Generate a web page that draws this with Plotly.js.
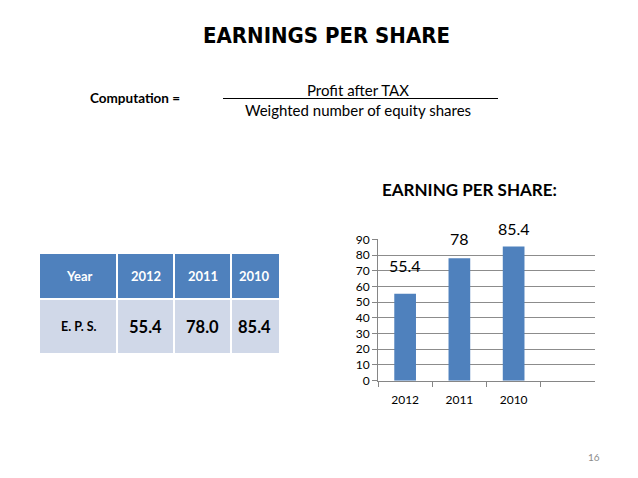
<!DOCTYPE html>
<html><head><meta charset="utf-8">
<script src="https://cdn.plot.ly/plotly-3.0.1.min.js"></script>
<style>html,body{margin:0;padding:0;background:#fff}</style>
</head><body><div id="chart" style="width:638px;height:478px"></div>
<script>
const years = ["2012", "2011", "2010"];
const eps = [55.4, 78.0, 85.4];
const barLabels = ["55.4", "78", "85.4"];
const tableHeader = ["Year", "2012", "2011", "2010"];
const tableRow = ["E. P. S.", "55.4", "78.0", "85.4"];
const yTicks = [0, 10, 20, 30, 40, 50, 60, 70, 80, 90];

const W = 638, H = 478;
const px = x => x / W, py = y => 1 - y / H;
const FONT = "Lato, 'Open Sans', sans-serif";

// table geometry (pixels)
const colEdges = [40, 117, 174, 231, 279];
const rowEdges = [[254, 298], [300, 353]];
const rowFill = ["#4F81BD", "#D0D8E8"];

const bar = {
  type: "bar", x: years, y: eps, width: 0.4,
  marker: {color: "#4F81BD", line: {width: 0}},
  hoverinfo: "skip", showlegend: false
};

function paperText(text, x, y, size, color, family) {
  return {text: text, x: px(x), y: py(y), xref: "paper", yref: "paper",
    xanchor: "center", yanchor: "middle", showarrow: false,
    font: {family: family || FONT, size: size, color: color || "#000"}};
}

const annotations = [
  paperText("<b>EARNINGS PER SHARE</b>", 327, 35, 22, "#000", "'DejaVu Sans Condensed', 'DejaVu Sans'"),
  paperText("<b>Computation =</b>", 135, 98, 13.5),
  paperText("Profit after TAX", 358, 90, 15),
  paperText("Weighted number of equity shares", 358, 110, 15),
  paperText("<b>EARNING PER SHARE:</b>", 469, 189, 17),
  paperText("16", 594, 457, 10, "#8C8C8C")
];
const labelShift = [17, 8, 7];
years.forEach((yr, i) => {
  annotations.push({text: barLabels[i], x: i, y: eps[i], xref: "x", yref: "y",
    xanchor: "center", showarrow: false, yanchor: "bottom", yshift: labelShift[i],
    font: {family: FONT, size: 16, color: "#000"}});
});

const shapes = [
  {type: "line", xref: "paper", yref: "paper", x0: px(223), x1: px(498), y0: py(98.5), y1: py(98.5),
   line: {color: "#000", width: 1}}
];
const rows = [tableHeader, tableRow];
rows.forEach((row, r) => {
  row.forEach((val, c) => {
    const x0 = colEdges[c] + (c > 0 ? 1 : 0), x1 = colEdges[c + 1] - (c < row.length - 1 ? 1 : 0);
    const [y0, y1] = rowEdges[r];
    shapes.push({type: "rect", xref: "paper", yref: "paper", x0: px(x0), x1: px(x1), y0: py(y1), y1: py(y0),
      fillcolor: rowFill[r], line: {width: 0}, layer: "below"});
    const size = r === 0 ? 13 : (c === 0 ? 12.5 : 16.5);
    annotations.push(paperText("<b>" + val + "</b>", (colEdges[c] + colEdges[c + 1]) / 2, (y0 + y1) / 2,
      size, r === 0 ? "#FFFFFF" : "#000"));
  });
});

const layout = {
  width: W, height: H,
  margin: {l: 0, r: 0, t: 0, b: 0},
  paper_bgcolor: "#FFFFFF", plot_bgcolor: "rgba(0,0,0,0)",
  font: {family: FONT, color: "#000"},
  xaxis: {
    domain: [px(378), px(595)], range: [-0.5, 3.5], type: "category",
    showline: true, linecolor: "#868686", linewidth: 1,
    ticks: "outside", tickson: "boundaries", ticklen: 5, tickcolor: "#868686",
    showgrid: false, zeroline: false, ticklabelstandoff: 8,
    tickfont: {family: FONT, size: 12, color: "#000"}, fixedrange: true
  },
  yaxis: {
    domain: [py(380.7), py(239.3)], range: [0, 90],
    tickvals: yTicks, ticktext: yTicks.map(String),
    showline: true, linecolor: "#868686", linewidth: 1,
    ticks: "outside", ticklen: 5, tickcolor: "#868686",
    showgrid: true, gridcolor: "#8C8C8C", gridwidth: 1, zeroline: false,
    tickfont: {family: FONT, size: 12, color: "#000"}, fixedrange: true
  },
  shapes: shapes,
  annotations: annotations
};

Plotly.newPlot("chart", [bar], layout, {displayModeBar: false, staticPlot: true});
</script>
</body></html>
